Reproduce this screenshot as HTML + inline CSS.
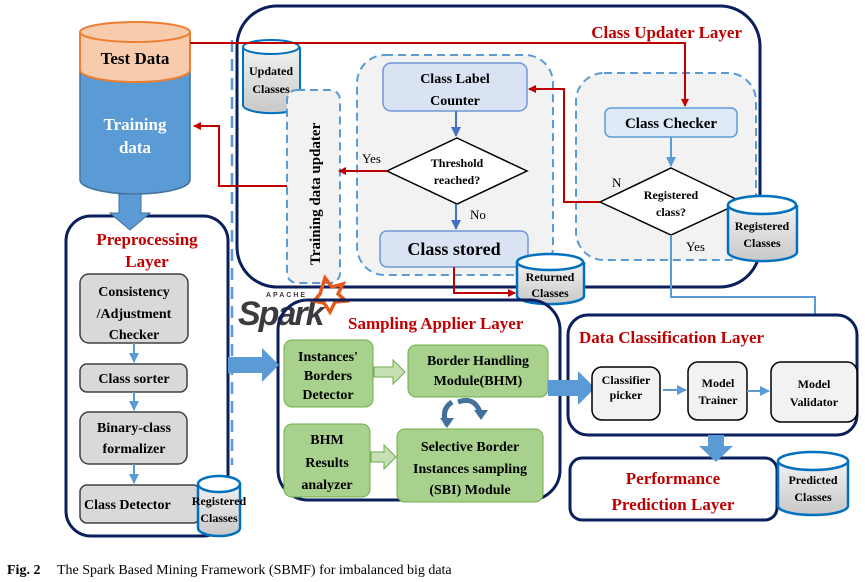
<!DOCTYPE html>
<html><head><meta charset="utf-8"><style>
body{margin:0;background:#fff}
svg{display:block}
text{font-family:"Liberation Serif",serif;font-weight:bold}
</style></head><body>
<svg width="865" height="582" viewBox="0 0 865 582" xmlns="http://www.w3.org/2000/svg">
<defs>
<marker id="ar" markerWidth="8" markerHeight="8" refX="7" refY="4" orient="auto" markerUnits="userSpaceOnUse"><path d="M0,0 L8,4 L0,8z" fill="#c00000"/></marker>
<marker id="ab" markerWidth="10" markerHeight="10" refX="9" refY="5" orient="auto" markerUnits="userSpaceOnUse"><path d="M0,0 L10,5 L0,10z" fill="#5b9bd5"/></marker>
<marker id="ab2" markerWidth="10" markerHeight="10" refX="9" refY="5" orient="auto" markerUnits="userSpaceOnUse"><path d="M0,0 L10,5 L0,10z" fill="#4472c4"/></marker>
<linearGradient id="cg" x1="0" x2="0" y1="0" y2="1"><stop offset="0" stop-color="#f2f2f2"/><stop offset="1" stop-color="#c8c8c8"/></linearGradient>
</defs>

<!-- Test/Training cylinder -->
<path d="M80,32 L80,180 A55,14 0 0 0 190,180 L190,32" fill="#5b9bd5" stroke="#41719c" stroke-width="1.5"/>
<path d="M80,32 L80,70 A55,12 0 0 0 190,70 L190,32" fill="#f8cbad" stroke="#ed7d31" stroke-width="2"/>
<ellipse cx="135" cy="32" rx="55" ry="10" fill="#f8cbad" stroke="#ed7d31" stroke-width="2"/>
<text x="135" y="64" font-size="17" text-anchor="middle" fill="#000">Test Data</text>
<text x="135" y="130" font-size="17" text-anchor="middle" fill="#fff">Training</text>
<text x="135" y="153" font-size="17" text-anchor="middle" fill="#fff">data</text>

<!-- Preprocessing -->
<rect x="66" y="216" width="162" height="320" rx="25" fill="#fff" stroke="#0a1f5c" stroke-width="3"/>
<path d="M119,194 L141,194 L141,213 L150,213 L130,230 L110,213 L119,213z" fill="#5b9bd5" stroke="#41719c"/>
<text x="147" y="245" font-size="17" text-anchor="middle" fill="#c00000">Preprocessing</text>
<text x="147" y="267" font-size="17" text-anchor="middle" fill="#c00000">Layer</text>
<rect x="80" y="274" width="108" height="69" rx="9" fill="#d9d9d9" stroke="#404040" stroke-width="1.5"/>
<text x="134" y="296" font-size="14" text-anchor="middle">Consistency</text>
<text x="134" y="318" font-size="14" text-anchor="middle">/Adjustment</text>
<text x="134" y="339" font-size="14" text-anchor="middle">Checker</text>
<rect x="80" y="364" width="107" height="28" rx="7" fill="#d9d9d9" stroke="#404040" stroke-width="1.5"/>
<text x="134" y="383" font-size="14" text-anchor="middle">Class sorter</text>
<rect x="80" y="412" width="107" height="52" rx="9" fill="#d9d9d9" stroke="#404040" stroke-width="1.5"/>
<text x="134" y="432" font-size="14" text-anchor="middle">Binary-class</text>
<text x="134" y="453" font-size="14" text-anchor="middle">formalizer</text>
<rect x="80" y="485" width="120" height="38" rx="7" fill="#d9d9d9" stroke="#404040" stroke-width="1.5"/>
<text x="84" y="509" font-size="14">Class Detector</text>
<g stroke="#5b9bd5" stroke-width="2" fill="none"><line x1="134" y1="343" x2="134" y2="362" marker-end="url(#ab)"/><line x1="134" y1="392" x2="134" y2="410" marker-end="url(#ab)"/><line x1="134" y1="464" x2="134" y2="483" marker-end="url(#ab)"/></g>
<path d="M198,484 L198,528 A21,8 0 0 0 240,528 L240,484" fill="url(#cg)" stroke="#0070c0" stroke-width="2.5"/>
<ellipse cx="219" cy="484" rx="21" ry="8" fill="#fff" stroke="#0070c0" stroke-width="2.5"/>
<text x="219" y="505" font-size="12" text-anchor="middle">Registered</text>
<text x="219" y="522" font-size="12" text-anchor="middle">Classes</text>

<!-- dashed vertical -->
<line x1="232" y1="40" x2="232" y2="465" stroke="#5b9bd5" stroke-width="2.5" stroke-dasharray="12,7"/>

<!-- Class Updater Layer -->
<rect x="237" y="6" width="523" height="281" rx="40" fill="none" stroke="#0a1f5c" stroke-width="3"/>
<text x="742" y="38" font-size="17" text-anchor="end" fill="#c00000">Class Updater Layer</text>
<path d="M243,47 L243,105 A28,8 0 0 0 300,105 L300,47" fill="url(#cg)" stroke="#0070c0" stroke-width="2"/>
<ellipse cx="271" cy="47" rx="28" ry="7" fill="#fff" stroke="#0070c0" stroke-width="2"/>
<text x="271" y="75" font-size="12" text-anchor="middle">Updated</text>
<text x="271" y="93" font-size="12" text-anchor="middle">Classes</text>
<rect x="287" y="90" width="53" height="193" rx="10" fill="#f2f2f2" stroke="#5b9bd5" stroke-width="2" stroke-dasharray="8,5"/>
<text transform="translate(320,265) rotate(-90)" font-size="15">Training data updater</text>
<rect x="357" y="55" width="196" height="220" rx="28" fill="#f2f2f2" stroke="#5b9bd5" stroke-width="2" stroke-dasharray="8,5"/>
<rect x="576" y="73" width="180" height="187" rx="28" fill="#f2f2f2" stroke="#5b9bd5" stroke-width="2" stroke-dasharray="8,5"/>
<rect x="383" y="63" width="144" height="48" rx="8" fill="#dae3f3" stroke="#6f97d8" stroke-width="1.5"/>
<text x="455" y="83" font-size="14" text-anchor="middle">Class Label</text>
<text x="455" y="105" font-size="14" text-anchor="middle">Counter</text>
<line x1="456" y1="111" x2="456" y2="136" stroke="#4472c4" stroke-width="2" marker-end="url(#ab2)"/>
<polygon points="457,138 527,171 457,204 387,171" fill="#fff" stroke="#000" stroke-width="1.5"/>
<text x="457" y="167" font-size="12" text-anchor="middle">Threshold</text>
<text x="457" y="184" font-size="12" text-anchor="middle">reached?</text>
<line x1="456" y1="204" x2="456" y2="229" stroke="#4472c4" stroke-width="2" marker-end="url(#ab2)"/>
<text x="470" y="219" font-size="13" style="font-weight:normal">No</text>
<rect x="380" y="231" width="148" height="36" rx="7" fill="#dae3f3" stroke="#6f97d8" stroke-width="1.5"/>
<text x="454" y="255" font-size="18" text-anchor="middle">Class stored</text>
<text x="362" y="163" font-size="13" style="font-weight:normal">Yes</text>
<rect x="605" y="108" width="132" height="29" rx="6" fill="#deebf7" stroke="#5b9bd5" stroke-width="1.5"/>
<text x="671" y="128" font-size="15" text-anchor="middle">Class Checker</text>
<line x1="671" y1="137" x2="671" y2="166" stroke="#5b9bd5" stroke-width="2" marker-end="url(#ab)"/>
<polygon points="671,168 742,202 671,235 600,202" fill="#fff" stroke="#000" stroke-width="1.5"/>
<text x="671" y="199" font-size="12" text-anchor="middle">Registered</text>
<text x="671" y="216" font-size="12" text-anchor="middle">class?</text>
<text x="612" y="187" font-size="13" style="font-weight:normal">N</text>
<text x="686" y="251" font-size="13" style="font-weight:normal">Yes</text>
<!-- blue line to validator -->
<polyline points="671,235 671,297 815,297 815,359" stroke="#5b9bd5" stroke-width="2" fill="none" marker-end="url(#ab)"/>
<path d="M728,205 L728,252 A34,9 0 0 0 797,252 L797,205" fill="url(#cg)" stroke="#0070c0" stroke-width="2.5"/>
<ellipse cx="762" cy="205" rx="34" ry="9" fill="#fff" stroke="#0070c0" stroke-width="2.5"/>
<text x="762" y="230" font-size="12" text-anchor="middle">Registered</text>
<text x="762" y="247" font-size="12" text-anchor="middle">Classes</text>

<!-- red lines -->
<g stroke="#c00000" stroke-width="2" fill="none">
<polyline points="190,43 685,43 685,106" marker-end="url(#ar)"/>
<polyline points="600,202 564,202 564,89 529,89" marker-end="url(#ar)"/>
<line x1="387" y1="171" x2="339" y2="171" marker-end="url(#ar)"/>
<polyline points="287,186 219,186 219,126 194,126" marker-end="url(#ar)"/>
<polyline points="454,267 454,293 515,293" marker-end="url(#ar)"/>
</g>
<path d="M517,262 L517,296 A33,8 0 0 0 584,296 L584,262" fill="url(#cg)" stroke="#0070c0" stroke-width="2.5"/>
<ellipse cx="550" cy="262" rx="33" ry="8" fill="#fff" stroke="#0070c0" stroke-width="2.5"/>
<text x="550" y="281" font-size="12" text-anchor="middle">Returned</text>
<text x="550" y="297" font-size="12" text-anchor="middle">Classes</text>

<!-- Spark logo -->
<text x="238" y="325" font-size="34" fill="#3c3a3e" style="font-family:'Liberation Sans',sans-serif;font-weight:bold;font-style:italic" letter-spacing="-2">Spark</text>
<text x="266" y="297" font-size="7" fill="#3c3a3e" style="font-family:'Liberation Sans',sans-serif" letter-spacing="2">APACHE</text>
<path d="M325,278 L332,287 L343,284 L338,294 L346,301 L335,302 L330,312 L324,303 L314,301 L320,294z" fill="none" stroke="#e25a1c" stroke-width="3.5"/>

<!-- Sampling Applier Layer -->
<rect x="278" y="300" width="282" height="200" rx="30" fill="none" stroke="#0a1f5c" stroke-width="3"/>
<text x="348" y="329" font-size="17" fill="#c00000">Sampling Applier Layer</text>
<path d="M228,357 L262,357 L262,348 L279,365 L262,382 L262,373 L228,373z" fill="#5b9bd5"/>
<rect x="284" y="340" width="89" height="67" rx="8" fill="#a9d18e" stroke="#70ad47" stroke-width="1"/>
<text x="328" y="361" font-size="14" text-anchor="middle">Instances'</text>
<text x="328" y="380" font-size="14" text-anchor="middle">Borders</text>
<text x="328" y="399" font-size="14" text-anchor="middle">Detector</text>
<rect x="408" y="345" width="140" height="52" rx="8" fill="#a9d18e" stroke="#70ad47" stroke-width="1"/>
<text x="478" y="365" font-size="14" text-anchor="middle">Border Handling</text>
<text x="478" y="385" font-size="14" text-anchor="middle">Module(BHM)</text>
<rect x="284" y="424" width="86" height="73" rx="8" fill="#a9d18e" stroke="#70ad47" stroke-width="1"/>
<text x="327" y="444" font-size="14" text-anchor="middle">BHM</text>
<text x="327" y="467" font-size="14" text-anchor="middle">Results</text>
<text x="327" y="489" font-size="14" text-anchor="middle">analyzer</text>
<rect x="397" y="429" width="146" height="73" rx="8" fill="#a9d18e" stroke="#70ad47" stroke-width="1"/>
<text x="470" y="451" font-size="14" text-anchor="middle">Selective Border</text>
<text x="470" y="473" font-size="14" text-anchor="middle">Instances sampling</text>
<text x="470" y="494" font-size="14" text-anchor="middle">(SBI) Module</text>
<path d="M374,367 L393,367 L393,360 L405,372 L393,384 L393,377 L374,377z" fill="#c5e0b4" stroke="#70ad47"/>
<path d="M371,452 L384,452 L384,445 L396,457 L384,469 L384,462 L371,462z" fill="#c5e0b4" stroke="#70ad47"/>
<path d="M447,425 Q440,410 452,402 M458,402 Q474,396 480,412" stroke="#41719c" stroke-width="5" fill="none"/>
<path d="M440,418 L454,418 L447,428z M474,410 L488,410 L481,420z" fill="#41719c"/>

<!-- Data Classification Layer -->
<rect x="568" y="315" width="289" height="120" rx="20" fill="#fff" stroke="#0a1f5c" stroke-width="3"/>
<path d="M548,380 L578,380 L578,371 L595,388 L578,405 L578,396 L548,396z" fill="#5b9bd5"/>
<text x="579" y="343" font-size="17" fill="#c00000">Data Classification Layer</text>
<rect x="592" y="367" width="68" height="53" rx="10" fill="#f2f2f2" stroke="#000" stroke-width="1.5"/>
<text x="626" y="384" font-size="12" text-anchor="middle">Classifier</text>
<text x="626" y="399" font-size="12" text-anchor="middle">picker</text>
<rect x="688" y="362" width="59" height="58" rx="10" fill="#f2f2f2" stroke="#000" stroke-width="1.5"/>
<text x="718" y="387" font-size="12" text-anchor="middle">Model</text>
<text x="718" y="404" font-size="12" text-anchor="middle">Trainer</text>
<rect x="771" y="362" width="86" height="60" rx="10" fill="#f2f2f2" stroke="#000" stroke-width="1.5"/>
<text x="814" y="388" font-size="12" text-anchor="middle">Model</text>
<text x="814" y="406" font-size="12" text-anchor="middle">Validator</text>
<line x1="663" y1="390" x2="686" y2="390" stroke="#5b9bd5" stroke-width="2" marker-end="url(#ab)"/>
<line x1="747" y1="391" x2="769" y2="391" stroke="#5b9bd5" stroke-width="2" marker-end="url(#ab)"/>

<!-- Performance -->
<rect x="570" y="458" width="207" height="62" rx="12" fill="#fff" stroke="#0a1f5c" stroke-width="3"/>
<path d="M708,435 L724,435 L724,446 L733,446 L716,462 L699,446 L708,446z" fill="#5b9bd5"/>
<text x="673" y="484" font-size="17" text-anchor="middle" fill="#c00000">Performance</text>
<text x="673" y="510" font-size="17" text-anchor="middle" fill="#c00000">Prediction Layer</text>
<path d="M778,461 L778,506 A35,9 0 0 0 848,506 L848,461" fill="url(#cg)" stroke="#0070c0" stroke-width="2.5"/>
<ellipse cx="813" cy="461" rx="35" ry="9" fill="#fff" stroke="#0070c0" stroke-width="2.5"/>
<text x="813" y="484" font-size="12" text-anchor="middle">Predicted</text>
<text x="813" y="501" font-size="12" text-anchor="middle">Classes</text>

<!-- caption -->
<text x="7" y="574" font-size="14">Fig. 2</text>
<text x="57" y="574" font-size="14" style="font-weight:normal">The Spark Based Mining Framework (SBMF) for imbalanced big data</text>
</svg>
</body></html>
